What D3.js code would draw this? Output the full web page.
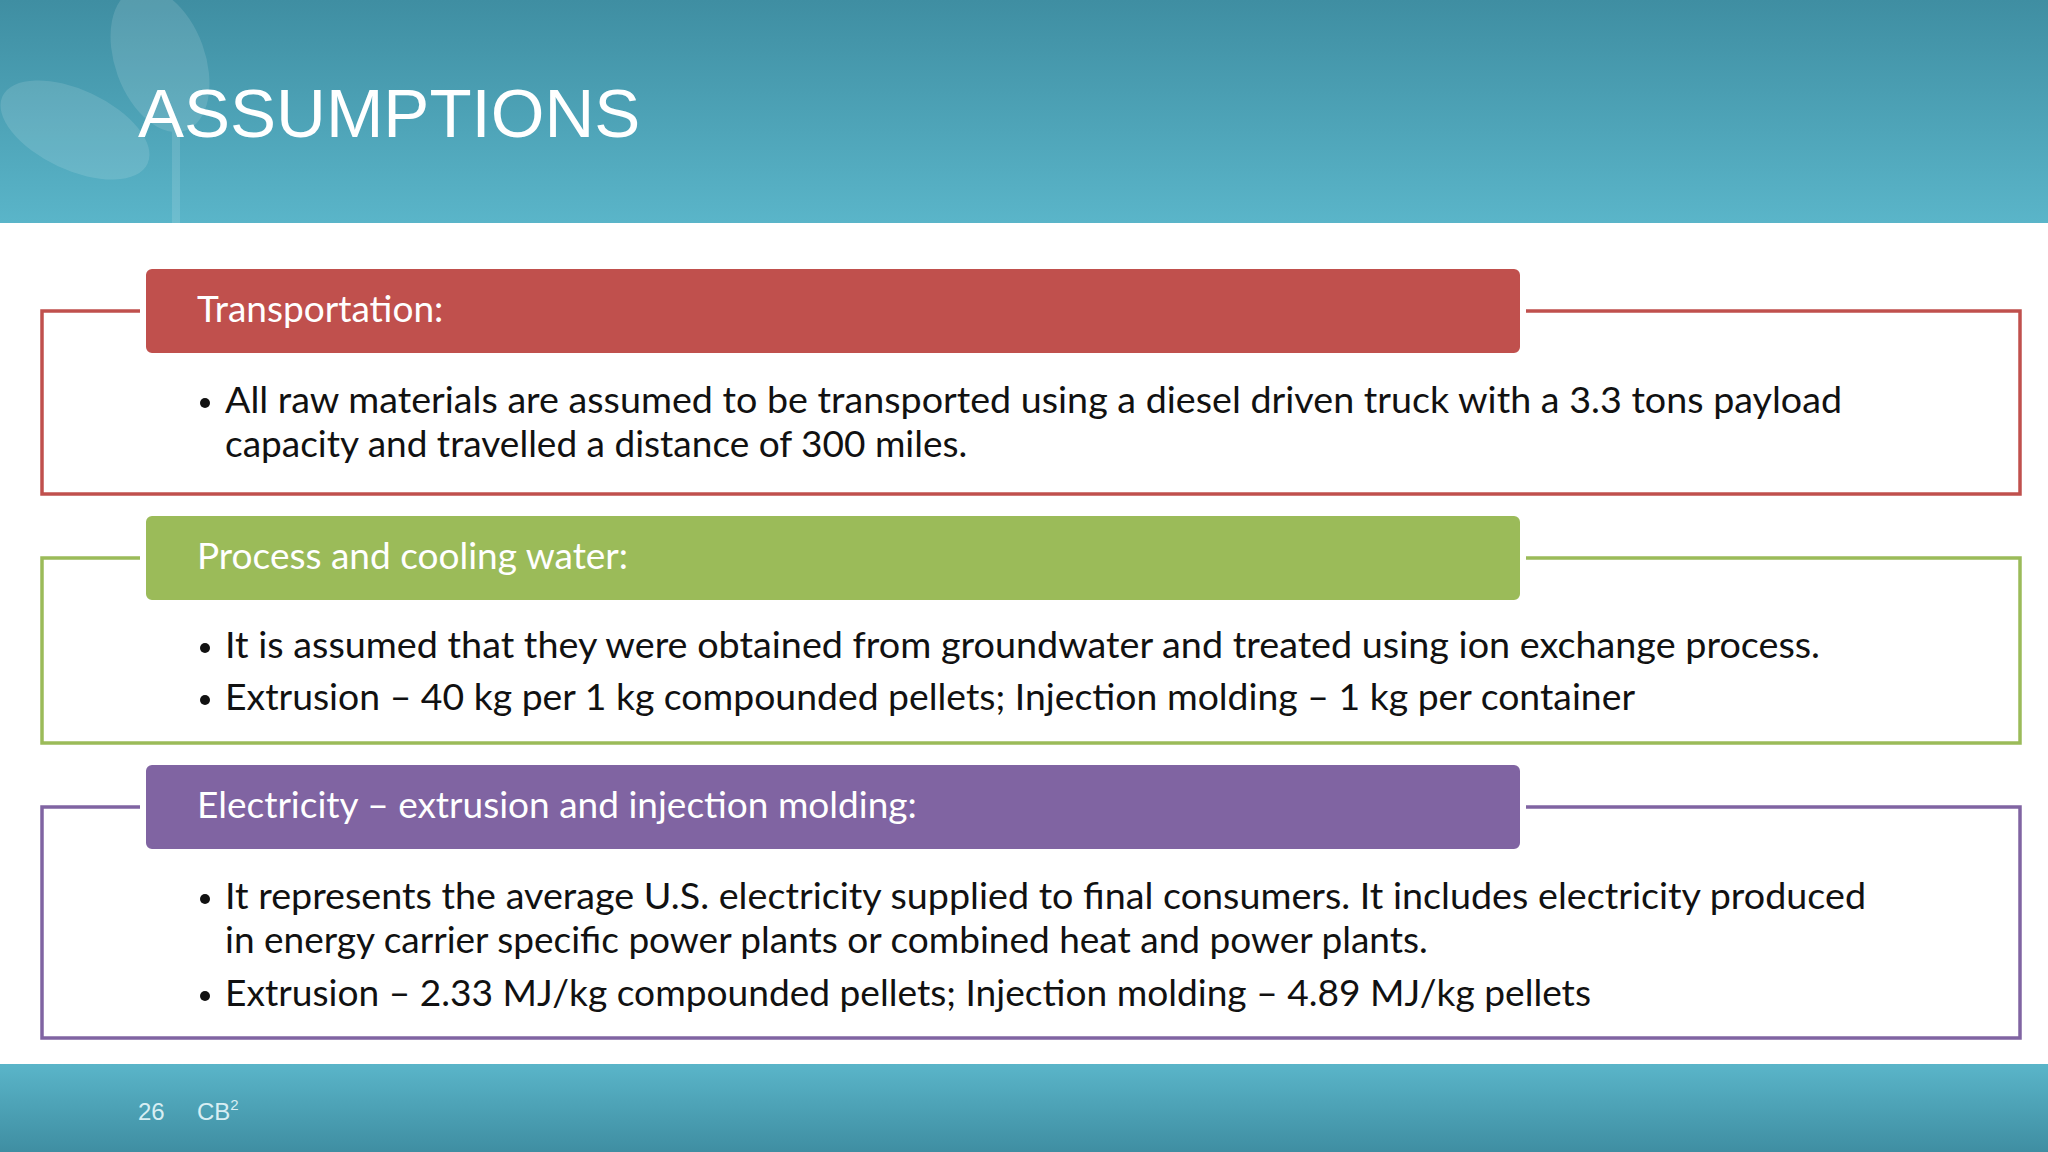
<!DOCTYPE html>
<html><head><meta charset="utf-8">
<script src="https://cdn.jsdelivr.net/npm/d3@7"></script>
<style>body{margin:0;background:#fff}svg{display:block}</style>
</head><body><svg id="slide"></svg>
<script>
// Slide content
const titles = ["Transportation:", "Process and cooling water:", "Electricity \u2013 extrusion and injection molding:"];
const colors = ["#c0504d", "#9bbb59", "#8064a2"];
const bullets = [
  [["All raw materials are assumed to be transported using a diesel driven truck with a 3.3 tons payload", "capacity and travelled a distance of 300 miles."]],
  [["It is assumed that they were obtained from groundwater and treated using ion exchange process."],
   ["Extrusion \u2013 40 kg per 1 kg compounded pellets; Injection molding \u2013 1 kg per container"]],
  [["It represents the average U.S. electricity supplied to final consumers. It includes electricity produced", "in energy carrier specific power plants or combined heat and power plants."],
   ["Extrusion \u2013 2.33 MJ/kg compounded pellets; Injection molding \u2013 4.89 MJ/kg pellets"]]
];
const boxTop = [311, 558, 807], boxBottom = [494, 743, 1038];
const lineY = [[404, 448], [649, 701], [900, 944, 997]];

const W = 2048, H = 1152;
const svg = d3.select("#slide").attr("width", W).attr("height", H);
const defs = svg.append("defs");
const hg = defs.append("linearGradient").attr("id", "hg").attr("x1", 0).attr("y1", 0).attr("x2", 0).attr("y2", 1);
hg.append("stop").attr("offset", 0).attr("stop-color", "#3f8ea2");
hg.append("stop").attr("offset", 1).attr("stop-color", "#5ab5c9");
const fg = defs.append("linearGradient").attr("id", "fg").attr("x1", 0).attr("y1", 0).attr("x2", 0).attr("y2", 1);
fg.append("stop").attr("offset", 0).attr("stop-color", "#5ab5c9");
fg.append("stop").attr("offset", 1).attr("stop-color", "#3f8ea2");

// header band
svg.append("rect").attr("width", W).attr("height", 223).attr("fill", "url(#hg)");
// faint leaf decoration
const leaf = svg.append("g").attr("fill", "#fff").attr("opacity", 0.12);
leaf.append("ellipse").attr("cx", 160).attr("cy", 60).attr("rx", 45).attr("ry", 75).attr("transform", "rotate(-20 160 60)");
leaf.append("ellipse").attr("cx", 75).attr("cy", 130).attr("rx", 80).attr("ry", 40).attr("transform", "rotate(25 75 130)");
leaf.append("rect").attr("x", 172).attr("y", 100).attr("width", 8).attr("height", 123);
svg.append("text").attr("x", 138).attr("y", 137).attr("fill", "#fff")
  .attr("font-family", "Liberation Sans, Arial, sans-serif").attr("font-size", 69).text("ASSUMPTIONS");

// footer band
svg.append("rect").attr("y", 1064).attr("width", W).attr("height", H - 1064).attr("fill", "url(#fg)");
const ft = svg.append("text").attr("y", 1120).attr("fill", "#d8eef3")
  .attr("font-family", "Liberation Sans, Arial, sans-serif").attr("font-size", 24);
ft.append("tspan").attr("x", 138).text("26");
ft.append("tspan").attr("x", 197).text("CB");
ft.append("tspan").attr("font-size", 15).attr("dy", -10).text("2");

const font = "Lato, 'Open Sans', sans-serif";
titles.forEach((t, i) => {
  const g = svg.append("g");
  g.append("rect").attr("x", 42).attr("y", boxTop[i]).attr("width", 1978)
    .attr("height", boxBottom[i] - boxTop[i]).attr("fill", "none").attr("stroke", colors[i]).attr("stroke-width", 3.5);
  g.append("rect").attr("x", 143).attr("y", boxTop[i] - 45).attr("width", 1380).attr("height", 90)
    .attr("rx", 9).attr("fill", colors[i]).attr("stroke", "#fff").attr("stroke-width", 6);
  g.append("text").attr("x", 197).attr("y", boxTop[i] + 2).attr("dominant-baseline", "middle")
    .attr("fill", "#fff").attr("font-family", font).attr("font-size", 37).text(t);
  let k = 0;
  bullets[i].forEach(b => {
    b.forEach((line, j) => {
      const y = lineY[i][k++];
      if (j === 0) g.append("circle").attr("cx", 205).attr("cy", y - 1).attr("r", 5).attr("fill", "#111");
      g.append("text").attr("x", 225).attr("y", y).attr("dominant-baseline", "middle")
        .attr("fill", "#111").attr("font-family", font).attr("font-size", 37).text(line);
    });
  });
});
// fit first long lines to reference widths
const targets = [["All raw", 1617], ["It is as", 1595], ["It repre", 1641], ["Extrusion \u2013 40", 1410], ["Extrusion \u2013 2.3", 1366]];
svg.selectAll("text").each(function () {
  const hit = targets.find(t => this.textContent.startsWith(t[0]));
  if (hit) d3.select(this).attr("textLength", hit[1]).attr("lengthAdjust", "spacingAndGlyphs");
});
</script></body></html>
